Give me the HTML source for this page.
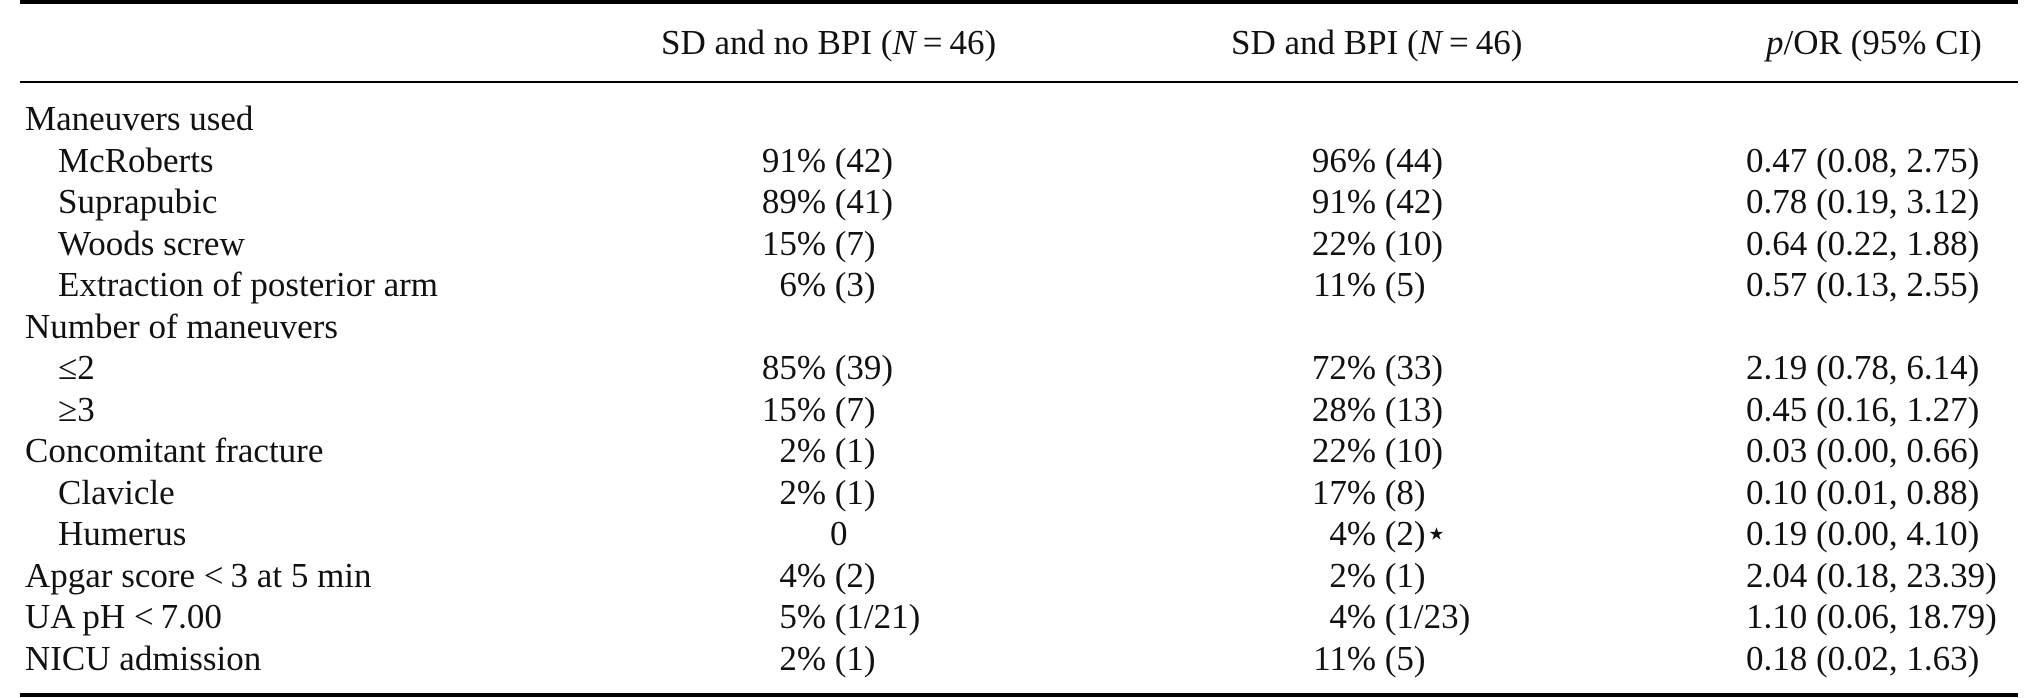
<!DOCTYPE html>
<html><head><meta charset="utf-8">
<style>
html,body{margin:0;padding:0;background:#fff;}
body{width:2024px;height:698px;position:relative;overflow:hidden;font-family:"Liberation Serif",serif;font-size:35px;color:#111;}
.t{position:absolute;white-space:pre;line-height:35px;}
.r{position:absolute;background:#000;left:20px;width:1998px;}
</style></head><body>
<div class="r" style="top:0;height:4px;"></div>
<div class="r" style="top:81px;height:2px;"></div>
<div class="r" style="top:693px;height:4px;"></div>

<div class="t" style="left:661px;top:25px;">SD and no BPI (<i>N</i>&#8201;=&#8201;46)</div>
<div class="t" style="left:1231px;top:25px;">SD and BPI (<i>N</i>&#8201;=&#8201;46)</div>
<div class="t" style="left:1766px;top:25px;"><i>p</i>/OR (95% CI)</div>

<div id="rows"></div>
<script>
var rows=[
["Maneuvers used",0,null,null,null],
["McRoberts",1,["91%"," (42)"],["96%"," (44)"],"0.47 (0.08, 2.75)"],
["Suprapubic",1,["89%"," (41)"],["91%"," (42)"],"0.78 (0.19, 3.12)"],
["Woods screw",1,["15%"," (7)"],["22%"," (10)"],"0.64 (0.22, 1.88)"],
["Extraction of posterior arm",1,["6%"," (3)"],["11%"," (5)"],"0.57 (0.13, 2.55)"],
["Number of maneuvers",0,null,null,null],
["\u22642",1,["85%"," (39)"],["72%"," (33)"],"2.19 (0.78, 6.14)"],
["\u22653",1,["15%"," (7)"],["28%"," (13)"],"0.45 (0.16, 1.27)"],
["Concomitant fracture",0,["2%"," (1)"],["22%"," (10)"],"0.03 (0.00, 0.66)"],
["Clavicle",1,["2%"," (1)"],["17%"," (8)"],"0.10 (0.01, 0.88)"],
["Humerus",1,"ZERO",["4%"," (2)\u22c6"],"0.19 (0.00, 4.10)"],
["Apgar score <\u20093 at 5 min",0,["4%"," (2)"],["2%"," (1)"],"2.04 (0.18, 23.39)"],
["UA pH <\u20097.00",0,["5%"," (1/21)"],["4%"," (1/23)"],"1.10 (0.06, 18.79)"],
["NICU admission",0,["2%"," (1)"],["11%"," (5)"],"0.18 (0.02, 1.63)"]
];
var h="";
function esc(s){return s.replace(/&/g,"&amp;").replace(/</g,"&lt;");}
rows.forEach(function(r,i){
 var top=Math.round(119+41.5*i-18);
 h+='<div class="t" style="left:'+(r[1]?58:25)+'px;top:'+top+'px;">'+esc(r[0])+'</div>';
 if(r[2]==="ZERO"){h+='<div class="t" style="left:830px;top:'+top+'px;">0</div>';}
 else if(r[2]){h+='<div class="t" style="right:'+(2024-826)+'px;top:'+top+'px;">'+r[2][0]+'</div><div class="t" style="left:826px;top:'+top+'px;">'+esc(r[2][1])+'</div>';}
 if(r[3]){h+='<div class="t" style="right:'+(2024-1376)+'px;top:'+top+'px;">'+r[3][0]+'</div><div class="t" style="left:1376px;top:'+top+'px;">'+esc(r[3][1])+'</div>';}
 if(r[4]){h+='<div class="t" style="left:1746px;top:'+top+'px;">'+r[4]+'</div>';}
});
document.getElementById("rows").innerHTML=h;
</script>
</body></html>
